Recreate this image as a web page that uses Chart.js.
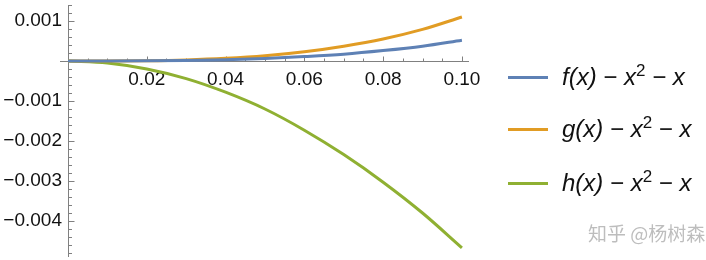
<!DOCTYPE html>
<html>
<head>
<meta charset="utf-8">
<script src="https://cdn.jsdelivr.net/npm/chart.js@4/dist/chart.umd.min.js"></script>
<style>
  html, body { margin: 0; padding: 0; background: #fff; }
  #wrap { position: relative; width: 706px; height: 260px; overflow: hidden; }
  #chart { position: absolute; left: 0; top: 0; }
  .legend-row { position: absolute; left: 508px; height: 30px; display: flex; align-items: center; }
  .legend-line { width: 40px; height: 3px; margin-right: 14px; }
  .legend-text { font-family: 'Liberation Sans', Arial, sans-serif; font-style: italic; font-size: 24px; line-height: 1; color: #111; white-space: nowrap; }
  .legend-text sup { font-style: normal; font-size: 17px; vertical-align: 9px; line-height: 0; }
  #mark { position: absolute; left: 588px; top: 219px; font-family: 'Noto Sans CJK SC', sans-serif; font-size: 19px; color: #bdbdbd; white-space: nowrap; }
</style>
</head>
<body>
<div id="wrap">
  <canvas id="chart" width="706" height="260"></canvas>
  <div id="legend"></div>
  <div id="mark">知乎 @杨树森</div>
</div>
<script>
// ── Data ────────────────────────────────────────────────────
const xValues = [0, 0.01, 0.02, 0.03, 0.04, 0.05, 0.06, 0.07, 0.08, 0.09, 0.10];
const fValues = [0, 0.0000005, 0.000004, 0.000014, 0.000032, 0.000063, 0.00011, 0.00017, 0.00026, 0.00037, 0.00052];
const gValues = [0, 0.000001, 0.000008, 0.000028, 0.000067, 0.00013, 0.00023, 0.00037, 0.00055, 0.00079, 0.0011];
const hValues = [0, -0.00005, -0.0002, -0.00044, -0.00078, -0.0012, -0.00173, -0.00234, -0.00303, -0.0038, -0.00467];

const xTicks = [0.02, 0.04, 0.06, 0.08, 0.10];
const xTickLabels = ['0.02', '0.04', '0.06', '0.08', '0.10'];
const yTicks = [0.001, -0.001, -0.002, -0.003, -0.004];
const yTickLabels = ['0.001', '\u22120.001', '\u22120.002', '\u22120.003', '\u22120.004'];

const seriesNames = ['f(x)', 'g(x)', 'h(x)'];
const seriesColors = ['#5e81b5', '#e19c24', '#8fb032'];

// ── Look ─────────────────────────────────────────────────────
const axisColor = '#808080';
const tickFont = { family: "'Liberation Sans', Arial, sans-serif", size: 19 };

const toPoints = vals => vals.map((v, i) => ({ x: xValues[i], y: v }));

// Mathematica-like axes: crossing at the origin, ticks pointing inward
const axesPlugin = {
    id: 'mmaAxes',
    beforeDatasetsDraw(chart) {
        const { ctx, chartArea, scales: { x, y } } = chart;
        const y0 = Math.round(y.getPixelForValue(0)) + 0.5;
        const x0 = Math.round(x.getPixelForValue(0)) + 0.5;
        ctx.save();
        ctx.strokeStyle = axisColor;
        ctx.lineWidth = 1;
        ctx.beginPath();
        ctx.moveTo(chartArea.left - 8, y0);
        ctx.lineTo(chartArea.right, y0);
        ctx.moveTo(x0, chartArea.top);
        ctx.lineTo(x0, chartArea.bottom);
        // x ticks every 0.005, major every 0.02
        for (let i = 1; i <= 20; i++) {
            const px = Math.round(x.getPixelForValue(i * 0.005)) + 0.5;
            const len = i % 4 === 0 ? 5 : 3;
            ctx.moveTo(px, y0);
            ctx.lineTo(px, y0 - len);
        }
        // y ticks every 0.0002, major every 0.001
        for (let i = -24; i <= 7; i++) {
            if (i === 0) continue;
            const py = Math.round(y.getPixelForValue(i * 0.0002)) + 0.5;
            const len = i % 5 === 0 ? 6 : 3.5;
            ctx.moveTo(x0, py);
            ctx.lineTo(x0 + len, py);
        }
        ctx.stroke();
        ctx.restore();
    }
};

const zeroPad = s => { s.paddingLeft = 0; s.paddingRight = 0; s.paddingTop = 0; s.paddingBottom = 0; };

new Chart(document.getElementById('chart'), {
    type: 'line',
    data: {
        datasets: [fValues, gValues, hValues].map((vals, i) => ({
            label: seriesNames[i],
            data: toPoints(vals),
            borderColor: seriesColors[i],
            borderWidth: 3,
            pointRadius: 0,
            fill: false,
            cubicInterpolationMode: 'monotone',
        })),
    },
    options: {
        responsive: false,
        animation: false,
        devicePixelRatio: 1,
        layout: { padding: { left: 0, right: 237, top: 5, bottom: 3 } },
        plugins: { legend: { display: false }, tooltip: { enabled: false } },
        scales: {
            x: {
                type: 'linear',
                position: { y: 0 },
                min: 0,
                max: 0.1018,
                afterBuildTicks: axis => { axis.ticks = xTicks.map(v => ({ value: v })); },
                afterFit: zeroPad,
                ticks: {
                    callback: (v, i) => xTickLabels[i],
                    font: tickFont,
                    color: '#111',
                    padding: 5,
                    maxRotation: 0,
                    autoSkip: false,
                },
                grid: { display: false, drawTicks: true, tickLength: 2 },
                border: { display: false },
            },
            y: {
                type: 'linear',
                position: 'left',
                min: -0.0049,
                max: 0.0014,
                afterBuildTicks: axis => { axis.ticks = yTicks.map(v => ({ value: v })); },
                afterFit: s => { zeroPad(s); s.width = 68; },
                ticks: {
                    callback: (v, i) => yTickLabels[i],
                    font: tickFont,
                    color: '#111',
                    padding: 6,
                    autoSkip: false,
                },
                grid: { display: false, drawTicks: false },
                border: { display: false },
            },
        },
    },
    plugins: [axesPlugin],
});

// ── Legend (HTML, for the superscripts) ─────────────────────
const legendRowsY = [77, 129, 183];
const legendEl = document.getElementById('legend');
seriesNames.forEach((name, i) => {
    const row = document.createElement('div');
    row.className = 'legend-row';
    row.style.top = (legendRowsY[i] - 15) + 'px';
    row.innerHTML = `
        <div class="legend-line" style="background:${seriesColors[i]}"></div>
        <div class="legend-text">${name} \u2212 x<sup>2</sup> \u2212 x</div>
    `;
    legendEl.appendChild(row);
});
</script>
</body>
</html>
